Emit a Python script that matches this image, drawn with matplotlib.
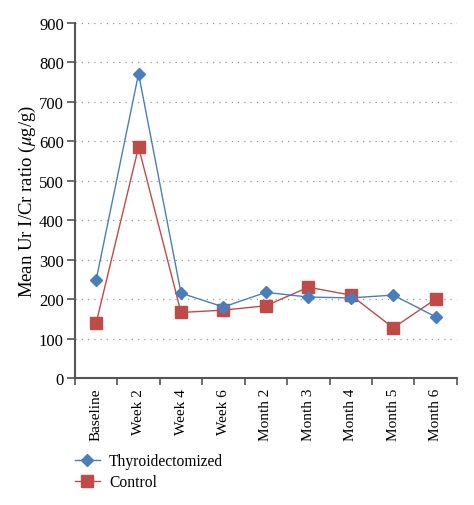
import matplotlib
matplotlib.use("Agg")
import matplotlib.pyplot as plt
import numpy as np

plt.rcParams.update({"font.family": "Liberation Serif", "mathtext.fontset": "stix",
                     "font.size": 10})

categories = ["Baseline", "Week 2", "Week 4", "Week 6", "Month 2",
              "Month 3", "Month 4", "Month 5", "Month 6"]
thyroid = [248, 771, 215, 180, 217, 205, 203, 210, 155]
control = [139, 585, 166, 172, 183, 230, 210, 127, 200]

BLUE = "#4a7ebb"
RED = "#be4b48"
AXIS = "#555555"

fig = plt.figure(figsize=(4.74, 5.06), dpi=100)
ax = fig.add_axes([0.158, 0.251, 0.806, 0.702])

x = np.arange(len(categories))
ax.plot(x, thyroid, color=BLUE, lw=1.0, marker="D", ms=6.5, mfc=BLUE, mec=BLUE,
        label="Thyroidectomized", zorder=3)
ax.plot(x, control, color=RED, lw=1.0, marker="s", ms=8.5, mfc=RED, mec=RED,
        label="Control", zorder=2)

ax.set_xlim(-0.5, len(categories) - 0.5)
ax.set_ylim(0, 900)
ax.set_yticks(range(0, 901, 100))
ax.set_xticks(np.arange(-0.5, len(categories), 1.0))
ax.set_xticklabels([])
ax.set_xticks(x, minor=True)
ax.set_xticklabels(categories, minor=True, rotation=90, fontsize=11)
ax.tick_params(axis="x", which="minor", length=0, pad=7)
ax.tick_params(axis="x", which="major", length=5, color=AXIS, width=1.2, direction="out")
ax.tick_params(axis="y", length=6, color=AXIS, width=1.2, labelsize=12, pad=2)

ax.grid(axis="y", ls=(0, (1, 4)), color="#999999", lw=0.9)
ax.set_axisbelow(True)
for s in ("top", "right"):
    ax.spines[s].set_visible(False)
for s in ("left", "bottom"):
    ax.spines[s].set_color(AXIS)
    ax.spines[s].set_linewidth(1.5)

ax.set_ylabel(r"Mean Ur I/Cr ratio ($\mu$g/g)", fontsize=13.5, labelpad=1)

ax.legend(loc="upper left", bbox_to_anchor=(0.0, -0.212), frameon=False,
          fontsize=11.2, handlelength=1.6, handletextpad=0.6, labelspacing=0.3,
          borderpad=0, borderaxespad=0)

fig.savefig("out.png", dpi=100)
